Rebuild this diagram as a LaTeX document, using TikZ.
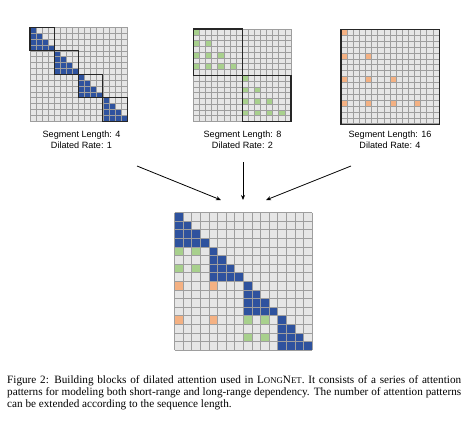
\documentclass[tikz,border=0pt]{standalone}
\usepackage{fontspec}
\setmainfont{Liberation Serif}
\newfontfamily\arialf{Liberation Sans}
\usetikzlibrary{arrows.meta}
\definecolor{cellbg}{HTML}{E6E6E6}
\definecolor{gridgray}{HTML}{9E9E9E}
\definecolor{cblue}{HTML}{2E529E}
\definecolor{cgreen}{HTML}{A8D08D}
\definecolor{corange}{HTML}{F4B183}
\tikzset{
  gridline/.style={draw=gridgray, line width=0.55pt},
  blockbox/.style={draw=black!85, line width=1.2pt},
  lbl/.style={font=\arialf\fontsize{9.1}{10.6}\selectfont, align=center, inner sep=0pt},
  conn/.style={-{Stealth[length=5pt,width=4pt]}, line width=0.8pt},
  gridnode/.style={inner sep=0pt, anchor=north west, draw=none},
}
\newcommand\mycellcol[3]{%
  \pgfmathtruncatemacro\fa{(floor(#1/4)==floor(#2/4))&&(#2<=#1)}%
  \pgfmathtruncatemacro\fb{(floor(#1/8)==floor(#2/8))&&(#2<=#1)&&(mod(#1,2)==0)&&(mod(#2,2)==0)}%
  \pgfmathtruncatemacro\fc{(#2<=#1)&&(mod(#1,4)==0)&&(mod(#2,4)==0)}%
  \def\cc{cellbg}%
  \ifcase#3\or
    \ifnum\fa=1 \def\cc{cblue}\fi
  \or
    \ifnum\fb=1 \def\cc{cgreen}\fi
  \or
    \ifnum\fc=1 \def\cc{corange}\fi
  \or
    \ifnum\fc=1 \def\cc{corange}\fi
    \ifnum\fb=1 \def\cc{cgreen}\fi
    \ifnum\fa=1 \def\cc{cblue}\fi
  \fi}
% name, x0, y0, cw, ch, mode
\newcommand\mygrid[6]{%
  \node[gridnode, minimum width=16*#4pt, minimum height=16*#5pt] (#1) at (#2,#3) {};
  \begin{scope}[shift={(#2,#3)}]
    \foreach \i in {0,...,15}{\foreach \j in {0,...,15}{%
      \mycellcol{\i}{\j}{#6}%
      \fill[\cc] (\j*#4,\i*#5) rectangle ++(#4,#5);
    }}
    \foreach \k in {0,...,16}{%
      \draw[gridline] (\k*#4,0) -- (\k*#4,16*#5);
      \draw[gridline] (0,\k*#5) -- (16*#4,\k*#5);
    }
  \end{scope}}
\begin{document}
\begin{tikzpicture}[x=1pt,y=-1pt]
\useasboundingbox (0,0) rectangle (474,424);
\fill[white] (0,0) rectangle (474,424);
% grid 1
\mygrid{g1}{30}{27.3}{6.07}{5.87}{1}
\foreach \k in {0,...,3}{
  \draw[blockbox] (30+\k*4*6.07,27.3+\k*4*5.87) rectangle ++(4*6.07,4*5.87);
}
% grid 2
\mygrid{g2}{193.3}{29}{6.1}{5.78}{2}
\foreach \k in {0,1}{
  \draw[blockbox] (193.3+\k*8*6.1,29+\k*8*5.78) rectangle ++(8*6.1,8*5.78);
}
% grid 3
\mygrid{g3}{341}{29.3}{6.12}{5.9}{3}
\draw[blockbox] (g3.north west) rectangle (g3.south east);
% combined grid
\mygrid{g4}{174.5}{212.5}{8.6}{8.6}{4}
% labels
\node[lbl] (l1) at (81.5,140) {Segment Length: 4\\Dilated Rate: 1};
\node[lbl] (l2) at (242.5,140) {Segment Length: 8\\Dilated Rate: 2};
\node[lbl] (l3) at (390,140) {Segment Length: 16\\Dilated Rate: 4};
% arrows
\coordinate (a1s) at (137,166);
\coordinate (a1e) at (221,200);
\coordinate (a2s) at (243,162);
\coordinate (a2e) at (243,200);
\coordinate (a3s) at (351,166);
\coordinate (a3e) at (266,200);
\draw[conn] (a1s) -- (a1e);
\draw[conn] (a2s) -- (a2e);
\draw[conn] (a3s) -- (a3e);
% caption
\node[anchor=north west, inner sep=0pt, align=left] (cap) at (7,375.5) {\parbox{454pt}{\fontsize{11.2}{12}\selectfont
Figure 2: Building blocks of dilated attention used in L{\fontsize{8.8}{12}\selectfont ONG}N{\fontsize{8.8}{12}\selectfont ET}. It consists of a series of attention\linebreak
patterns for modeling both short-range and long-range dependency. The number of attention patterns\linebreak
can be extended according to the sequence length.}};
\end{tikzpicture}
\end{document}
